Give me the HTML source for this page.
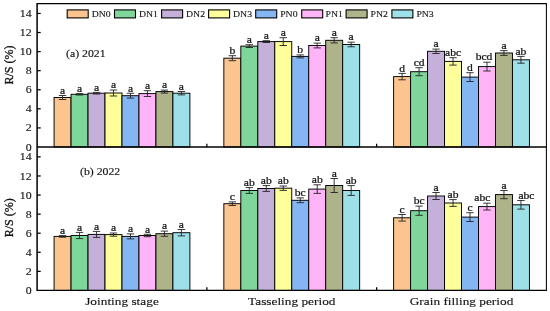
<!DOCTYPE html>
<html><head><meta charset="utf-8"><title>R/S chart</title>
<style>html,body{margin:0;padding:0;background:#fff;overflow:hidden}svg{display:block}text{font-family:"Liberation Serif",serif;fill:#141414;stroke:#141414;stroke-width:0.13px}</style>
</head><body>
<svg width="550" height="311" viewBox="0 0 550 311">
<rect width="550" height="311" fill="#fff"/>
<rect x="54.08" y="97.50" width="16.98" height="49.50" fill="#FCC590" stroke="#000" stroke-width="0.95"/>
<rect x="71.05" y="94.30" width="16.98" height="52.70" fill="#7ED69B" stroke="#000" stroke-width="0.95"/>
<rect x="88.03" y="93.20" width="16.98" height="53.80" fill="#C5B0DA" stroke="#000" stroke-width="0.95"/>
<rect x="105.01" y="93.00" width="16.98" height="54.00" fill="#FEFE9B" stroke="#000" stroke-width="0.95"/>
<rect x="121.98" y="95.70" width="16.98" height="51.30" fill="#84B6F4" stroke="#000" stroke-width="0.95"/>
<rect x="138.96" y="93.60" width="16.98" height="53.40" fill="#FEB4F6" stroke="#000" stroke-width="0.95"/>
<rect x="155.94" y="91.60" width="16.98" height="55.40" fill="#AEB38A" stroke="#000" stroke-width="0.95"/>
<rect x="172.91" y="93.20" width="16.98" height="53.80" fill="#9DE0E8" stroke="#000" stroke-width="0.95"/>
<path d="M62.56 95.50V99.50M58.86 95.50H66.26M58.86 99.50H66.26" stroke="#222" stroke-width="0.9" fill="none"/>
<text transform="translate(62.56 93.70) scale(1.1 1)" font-size="10.5" text-anchor="middle" style="stroke-width:0.25px">a</text>
<path d="M79.54 93.60V95.00M75.84 93.60H83.24M75.84 95.00H83.24" stroke="#222" stroke-width="0.9" fill="none"/>
<text transform="translate(79.54 91.80) scale(1.1 1)" font-size="10.5" text-anchor="middle" style="stroke-width:0.25px">a</text>
<path d="M96.52 92.40V94.00M92.82 92.40H100.22M92.82 94.00H100.22" stroke="#222" stroke-width="0.9" fill="none"/>
<text transform="translate(96.52 90.60) scale(1.1 1)" font-size="10.5" text-anchor="middle" style="stroke-width:0.25px">a</text>
<path d="M113.49 90.00V96.00M109.79 90.00H117.19M109.79 96.00H117.19" stroke="#222" stroke-width="0.9" fill="none"/>
<text transform="translate(113.49 88.20) scale(1.1 1)" font-size="10.5" text-anchor="middle" style="stroke-width:0.25px">a</text>
<path d="M130.47 93.30V98.10M126.77 93.30H134.17M126.77 98.10H134.17" stroke="#222" stroke-width="0.9" fill="none"/>
<text transform="translate(130.47 91.50) scale(1.1 1)" font-size="10.5" text-anchor="middle" style="stroke-width:0.25px">a</text>
<path d="M147.45 90.70V96.50M143.75 90.70H151.15M143.75 96.50H151.15" stroke="#222" stroke-width="0.9" fill="none"/>
<text transform="translate(147.45 88.90) scale(1.1 1)" font-size="10.5" text-anchor="middle" style="stroke-width:0.25px">a</text>
<path d="M164.43 90.10V93.10M160.73 90.10H168.12M160.73 93.10H168.12" stroke="#222" stroke-width="0.9" fill="none"/>
<text transform="translate(164.43 88.30) scale(1.1 1)" font-size="10.5" text-anchor="middle" style="stroke-width:0.25px">a</text>
<path d="M181.40 91.50V94.90M177.70 91.50H185.10M177.70 94.90H185.10" stroke="#222" stroke-width="0.9" fill="none"/>
<text transform="translate(181.40 89.70) scale(1.1 1)" font-size="10.5" text-anchor="middle" style="stroke-width:0.25px">a</text>
<rect x="223.84" y="58.20" width="16.98" height="88.80" fill="#FCC590" stroke="#000" stroke-width="0.95"/>
<rect x="240.82" y="46.10" width="16.98" height="100.90" fill="#7ED69B" stroke="#000" stroke-width="0.95"/>
<rect x="257.80" y="41.60" width="16.98" height="105.40" fill="#C5B0DA" stroke="#000" stroke-width="0.95"/>
<rect x="274.77" y="41.60" width="16.98" height="105.40" fill="#FEFE9B" stroke="#000" stroke-width="0.95"/>
<rect x="291.75" y="56.40" width="16.98" height="90.60" fill="#84B6F4" stroke="#000" stroke-width="0.95"/>
<rect x="308.73" y="45.50" width="16.98" height="101.50" fill="#FEB4F6" stroke="#000" stroke-width="0.95"/>
<rect x="325.70" y="40.30" width="16.98" height="106.70" fill="#AEB38A" stroke="#000" stroke-width="0.95"/>
<rect x="342.68" y="44.50" width="16.98" height="102.50" fill="#9DE0E8" stroke="#000" stroke-width="0.95"/>
<path d="M232.33 55.70V60.70M228.63 55.70H236.03M228.63 60.70H236.03" stroke="#222" stroke-width="0.9" fill="none"/>
<text transform="translate(232.33 53.90) scale(1.1 1)" font-size="10.5" text-anchor="middle" style="stroke-width:0.25px">b</text>
<path d="M249.31 44.70V47.50M245.61 44.70H253.01M245.61 47.50H253.01" stroke="#222" stroke-width="0.9" fill="none"/>
<text transform="translate(249.31 42.90) scale(1.1 1)" font-size="10.5" text-anchor="middle" style="stroke-width:0.25px">a</text>
<path d="M266.29 40.70V42.50M262.59 40.70H269.99M262.59 42.50H269.99" stroke="#222" stroke-width="0.9" fill="none"/>
<text transform="translate(266.29 38.90) scale(1.1 1)" font-size="10.5" text-anchor="middle" style="stroke-width:0.25px">a</text>
<path d="M283.26 37.70V45.50M279.56 37.70H286.96M279.56 45.50H286.96" stroke="#222" stroke-width="0.9" fill="none"/>
<text transform="translate(283.26 35.90) scale(1.1 1)" font-size="10.5" text-anchor="middle" style="stroke-width:0.25px">a</text>
<path d="M300.24 54.90V57.90M296.54 54.90H303.94M296.54 57.90H303.94" stroke="#222" stroke-width="0.9" fill="none"/>
<text transform="translate(300.24 53.10) scale(1.1 1)" font-size="10.5" text-anchor="middle" style="stroke-width:0.25px">b</text>
<path d="M317.22 43.10V47.90M313.52 43.10H320.92M313.52 47.90H320.92" stroke="#222" stroke-width="0.9" fill="none"/>
<text transform="translate(317.22 41.30) scale(1.1 1)" font-size="10.5" text-anchor="middle" style="stroke-width:0.25px">a</text>
<path d="M334.19 37.70V42.90M330.49 37.70H337.89M330.49 42.90H337.89" stroke="#222" stroke-width="0.9" fill="none"/>
<text transform="translate(334.19 35.90) scale(1.1 1)" font-size="10.5" text-anchor="middle" style="stroke-width:0.25px">a</text>
<path d="M351.17 42.20V46.80M347.47 42.20H354.87M347.47 46.80H354.87" stroke="#222" stroke-width="0.9" fill="none"/>
<text transform="translate(351.17 40.40) scale(1.1 1)" font-size="10.5" text-anchor="middle" style="stroke-width:0.25px">a</text>
<rect x="393.61" y="76.60" width="16.98" height="70.40" fill="#FCC590" stroke="#000" stroke-width="0.95"/>
<rect x="410.59" y="71.70" width="16.98" height="75.30" fill="#7ED69B" stroke="#000" stroke-width="0.95"/>
<rect x="427.56" y="51.30" width="16.98" height="95.70" fill="#C5B0DA" stroke="#000" stroke-width="0.95"/>
<rect x="444.54" y="61.40" width="16.98" height="85.60" fill="#FEFE9B" stroke="#000" stroke-width="0.95"/>
<rect x="461.52" y="77.10" width="16.98" height="69.90" fill="#84B6F4" stroke="#000" stroke-width="0.95"/>
<rect x="478.49" y="66.60" width="16.98" height="80.40" fill="#FEB4F6" stroke="#000" stroke-width="0.95"/>
<rect x="495.47" y="53.00" width="16.98" height="94.00" fill="#AEB38A" stroke="#000" stroke-width="0.95"/>
<rect x="512.45" y="59.80" width="16.98" height="87.20" fill="#9DE0E8" stroke="#000" stroke-width="0.95"/>
<path d="M402.10 73.40V79.80M398.40 73.40H405.80M398.40 79.80H405.80" stroke="#222" stroke-width="0.9" fill="none"/>
<text transform="translate(402.10 71.60) scale(1.1 1)" font-size="10.5" text-anchor="middle" style="stroke-width:0.25px">d</text>
<path d="M419.08 67.70V75.70M415.38 67.70H422.78M415.38 75.70H422.78" stroke="#222" stroke-width="0.9" fill="none"/>
<text transform="translate(419.08 65.90) scale(1.1 1)" font-size="10.5" text-anchor="middle" style="stroke-width:0.25px">cd</text>
<path d="M436.05 49.10V53.50M432.35 49.10H439.75M432.35 53.50H439.75" stroke="#222" stroke-width="0.9" fill="none"/>
<text transform="translate(436.05 47.30) scale(1.1 1)" font-size="10.5" text-anchor="middle" style="stroke-width:0.25px">a</text>
<path d="M453.03 57.70V65.10M449.33 57.70H456.73M449.33 65.10H456.73" stroke="#222" stroke-width="0.9" fill="none"/>
<text transform="translate(453.03 55.90) scale(1.1 1)" font-size="10.5" text-anchor="middle" style="stroke-width:0.25px">abc</text>
<path d="M470.00 72.70V81.50M466.31 72.70H473.70M466.31 81.50H473.70" stroke="#222" stroke-width="0.9" fill="none"/>
<text transform="translate(470.00 70.90) scale(1.1 1)" font-size="10.5" text-anchor="middle" style="stroke-width:0.25px">d</text>
<path d="M486.98 62.20V71.00M483.28 62.20H490.68M483.28 71.00H490.68" stroke="#222" stroke-width="0.9" fill="none"/>
<text transform="translate(483.98 60.40) scale(1.1 1)" font-size="10.5" text-anchor="middle" style="stroke-width:0.25px">bcd</text>
<path d="M503.96 50.60V55.40M500.26 50.60H507.66M500.26 55.40H507.66" stroke="#222" stroke-width="0.9" fill="none"/>
<text transform="translate(503.96 48.80) scale(1.1 1)" font-size="10.5" text-anchor="middle" style="stroke-width:0.25px">a</text>
<path d="M520.94 56.40V63.20M517.24 56.40H524.64M517.24 63.20H524.64" stroke="#222" stroke-width="0.9" fill="none"/>
<text transform="translate(520.94 54.60) scale(1.1 1)" font-size="10.5" text-anchor="middle" style="stroke-width:0.25px">ab</text>
<rect x="54.08" y="236.40" width="16.98" height="54.05" fill="#FCC590" stroke="#000" stroke-width="0.95"/>
<rect x="71.05" y="235.50" width="16.98" height="54.95" fill="#7ED69B" stroke="#000" stroke-width="0.95"/>
<rect x="88.03" y="234.40" width="16.98" height="56.05" fill="#C5B0DA" stroke="#000" stroke-width="0.95"/>
<rect x="105.01" y="234.60" width="16.98" height="55.85" fill="#FEFE9B" stroke="#000" stroke-width="0.95"/>
<rect x="121.98" y="236.40" width="16.98" height="54.05" fill="#84B6F4" stroke="#000" stroke-width="0.95"/>
<rect x="138.96" y="235.50" width="16.98" height="54.95" fill="#FEB4F6" stroke="#000" stroke-width="0.95"/>
<rect x="155.94" y="233.70" width="16.98" height="56.75" fill="#AEB38A" stroke="#000" stroke-width="0.95"/>
<rect x="172.91" y="232.70" width="16.98" height="57.75" fill="#9DE0E8" stroke="#000" stroke-width="0.95"/>
<path d="M62.56 235.60V237.20M58.86 235.60H66.26M58.86 237.20H66.26" stroke="#222" stroke-width="0.9" fill="none"/>
<text transform="translate(62.56 233.80) scale(1.1 1)" font-size="10.5" text-anchor="middle" style="stroke-width:0.25px">a</text>
<path d="M79.54 232.40V238.60M75.84 232.40H83.24M75.84 238.60H83.24" stroke="#222" stroke-width="0.9" fill="none"/>
<text transform="translate(79.54 230.60) scale(1.1 1)" font-size="10.5" text-anchor="middle" style="stroke-width:0.25px">a</text>
<path d="M96.52 231.40V237.40M92.82 231.40H100.22M92.82 237.40H100.22" stroke="#222" stroke-width="0.9" fill="none"/>
<text transform="translate(96.52 229.60) scale(1.1 1)" font-size="10.5" text-anchor="middle" style="stroke-width:0.25px">a</text>
<path d="M113.49 233.00V236.20M109.79 233.00H117.19M109.79 236.20H117.19" stroke="#222" stroke-width="0.9" fill="none"/>
<text transform="translate(113.49 231.20) scale(1.1 1)" font-size="10.5" text-anchor="middle" style="stroke-width:0.25px">a</text>
<path d="M130.47 233.90V238.90M126.77 233.90H134.17M126.77 238.90H134.17" stroke="#222" stroke-width="0.9" fill="none"/>
<text transform="translate(130.47 232.10) scale(1.1 1)" font-size="10.5" text-anchor="middle" style="stroke-width:0.25px">a</text>
<path d="M147.45 234.30V236.70M143.75 234.30H151.15M143.75 236.70H151.15" stroke="#222" stroke-width="0.9" fill="none"/>
<text transform="translate(147.45 232.50) scale(1.1 1)" font-size="10.5" text-anchor="middle" style="stroke-width:0.25px">a</text>
<path d="M164.43 231.10V236.30M160.73 231.10H168.12M160.73 236.30H168.12" stroke="#222" stroke-width="0.9" fill="none"/>
<text transform="translate(164.43 229.30) scale(1.1 1)" font-size="10.5" text-anchor="middle" style="stroke-width:0.25px">a</text>
<path d="M181.40 229.50V235.90M177.70 229.50H185.10M177.70 235.90H185.10" stroke="#222" stroke-width="0.9" fill="none"/>
<text transform="translate(181.40 227.70) scale(1.1 1)" font-size="10.5" text-anchor="middle" style="stroke-width:0.25px">a</text>
<rect x="223.84" y="203.70" width="16.98" height="86.75" fill="#FCC590" stroke="#000" stroke-width="0.95"/>
<rect x="240.82" y="190.50" width="16.98" height="99.95" fill="#7ED69B" stroke="#000" stroke-width="0.95"/>
<rect x="257.80" y="188.50" width="16.98" height="101.95" fill="#C5B0DA" stroke="#000" stroke-width="0.95"/>
<rect x="274.77" y="188.20" width="16.98" height="102.25" fill="#FEFE9B" stroke="#000" stroke-width="0.95"/>
<rect x="291.75" y="200.30" width="16.98" height="90.15" fill="#84B6F4" stroke="#000" stroke-width="0.95"/>
<rect x="308.73" y="189.10" width="16.98" height="101.35" fill="#FEB4F6" stroke="#000" stroke-width="0.95"/>
<rect x="325.70" y="185.50" width="16.98" height="104.95" fill="#AEB38A" stroke="#000" stroke-width="0.95"/>
<rect x="342.68" y="190.50" width="16.98" height="99.95" fill="#9DE0E8" stroke="#000" stroke-width="0.95"/>
<path d="M232.33 201.90V205.50M228.63 201.90H236.03M228.63 205.50H236.03" stroke="#222" stroke-width="0.9" fill="none"/>
<text transform="translate(232.33 200.10) scale(1.1 1)" font-size="10.5" text-anchor="middle" style="stroke-width:0.25px">c</text>
<path d="M249.31 187.60V193.40M245.61 187.60H253.01M245.61 193.40H253.01" stroke="#222" stroke-width="0.9" fill="none"/>
<text transform="translate(249.31 185.80) scale(1.1 1)" font-size="10.5" text-anchor="middle" style="stroke-width:0.25px">ab</text>
<path d="M266.29 185.60V191.40M262.59 185.60H269.99M262.59 191.40H269.99" stroke="#222" stroke-width="0.9" fill="none"/>
<text transform="translate(266.29 183.80) scale(1.1 1)" font-size="10.5" text-anchor="middle" style="stroke-width:0.25px">ab</text>
<path d="M283.26 186.00V190.40M279.56 186.00H286.96M279.56 190.40H286.96" stroke="#222" stroke-width="0.9" fill="none"/>
<text transform="translate(283.26 184.20) scale(1.1 1)" font-size="10.5" text-anchor="middle" style="stroke-width:0.25px">ab</text>
<path d="M300.24 197.90V202.70M296.54 197.90H303.94M296.54 202.70H303.94" stroke="#222" stroke-width="0.9" fill="none"/>
<text transform="translate(300.24 196.10) scale(1.1 1)" font-size="10.5" text-anchor="middle" style="stroke-width:0.25px">bc</text>
<path d="M317.22 184.80V193.40M313.52 184.80H320.92M313.52 193.40H320.92" stroke="#222" stroke-width="0.9" fill="none"/>
<text transform="translate(317.22 183.00) scale(1.1 1)" font-size="10.5" text-anchor="middle" style="stroke-width:0.25px">ab</text>
<path d="M334.19 178.50V192.50M330.49 178.50H337.89M330.49 192.50H337.89" stroke="#222" stroke-width="0.9" fill="none"/>
<text transform="translate(334.19 176.70) scale(1.1 1)" font-size="10.5" text-anchor="middle" style="stroke-width:0.25px">a</text>
<path d="M351.17 185.60V195.40M347.47 185.60H354.87M347.47 195.40H354.87" stroke="#222" stroke-width="0.9" fill="none"/>
<text transform="translate(351.17 183.80) scale(1.1 1)" font-size="10.5" text-anchor="middle" style="stroke-width:0.25px">ab</text>
<rect x="393.61" y="217.80" width="16.98" height="72.65" fill="#FCC590" stroke="#000" stroke-width="0.95"/>
<rect x="410.59" y="210.70" width="16.98" height="79.75" fill="#7ED69B" stroke="#000" stroke-width="0.95"/>
<rect x="427.56" y="196.00" width="16.98" height="94.45" fill="#C5B0DA" stroke="#000" stroke-width="0.95"/>
<rect x="444.54" y="203.00" width="16.98" height="87.45" fill="#FEFE9B" stroke="#000" stroke-width="0.95"/>
<rect x="461.52" y="217.10" width="16.98" height="73.35" fill="#84B6F4" stroke="#000" stroke-width="0.95"/>
<rect x="478.49" y="206.60" width="16.98" height="83.85" fill="#FEB4F6" stroke="#000" stroke-width="0.95"/>
<rect x="495.47" y="194.60" width="16.98" height="95.85" fill="#AEB38A" stroke="#000" stroke-width="0.95"/>
<rect x="512.45" y="204.80" width="16.98" height="85.65" fill="#9DE0E8" stroke="#000" stroke-width="0.95"/>
<path d="M402.10 214.50V221.10M398.40 214.50H405.80M398.40 221.10H405.80" stroke="#222" stroke-width="0.9" fill="none"/>
<text transform="translate(402.10 212.70) scale(1.1 1)" font-size="10.5" text-anchor="middle" style="stroke-width:0.25px">c</text>
<path d="M419.08 206.10V215.30M415.38 206.10H422.78M415.38 215.30H422.78" stroke="#222" stroke-width="0.9" fill="none"/>
<text transform="translate(419.08 204.30) scale(1.1 1)" font-size="10.5" text-anchor="middle" style="stroke-width:0.25px">bc</text>
<path d="M436.05 192.50V199.50M432.35 192.50H439.75M432.35 199.50H439.75" stroke="#222" stroke-width="0.9" fill="none"/>
<text transform="translate(436.05 190.70) scale(1.1 1)" font-size="10.5" text-anchor="middle" style="stroke-width:0.25px">a</text>
<path d="M453.03 199.60V206.40M449.33 199.60H456.73M449.33 206.40H456.73" stroke="#222" stroke-width="0.9" fill="none"/>
<text transform="translate(453.03 197.80) scale(1.1 1)" font-size="10.5" text-anchor="middle" style="stroke-width:0.25px">ab</text>
<path d="M470.00 212.70V221.50M466.31 212.70H473.70M466.31 221.50H473.70" stroke="#222" stroke-width="0.9" fill="none"/>
<text transform="translate(470.00 210.90) scale(1.1 1)" font-size="10.5" text-anchor="middle" style="stroke-width:0.25px">c</text>
<path d="M486.98 203.20V210.00M483.28 203.20H490.68M483.28 210.00H490.68" stroke="#222" stroke-width="0.9" fill="none"/>
<text transform="translate(482.28 201.40) scale(1.1 1)" font-size="10.5" text-anchor="middle" style="stroke-width:0.25px">abc</text>
<path d="M503.96 190.50V198.70M500.26 190.50H507.66M500.26 198.70H507.66" stroke="#222" stroke-width="0.9" fill="none"/>
<text transform="translate(503.96 188.70) scale(1.1 1)" font-size="10.5" text-anchor="middle" style="stroke-width:0.25px">a</text>
<path d="M520.94 200.50V209.10M517.24 200.50H524.64M517.24 209.10H524.64" stroke="#222" stroke-width="0.9" fill="none"/>
<text transform="translate(526.44 198.70) scale(1.1 1)" font-size="10.5" text-anchor="middle" style="stroke-width:0.25px">abc</text>
<text transform="translate(31.60 150.55) scale(1.1 1)" font-size="10.8" text-anchor="end">0</text>
<path d="M37.1 127.92H40.7" stroke="#000" stroke-width="1.25"/>
<text transform="translate(31.60 131.47) scale(1.1 1)" font-size="10.8" text-anchor="end">2</text>
<path d="M37.1 108.84H40.7" stroke="#000" stroke-width="1.25"/>
<text transform="translate(31.60 112.39) scale(1.1 1)" font-size="10.8" text-anchor="end">4</text>
<path d="M37.1 89.76H40.7" stroke="#000" stroke-width="1.25"/>
<text transform="translate(31.60 93.31) scale(1.1 1)" font-size="10.8" text-anchor="end">6</text>
<path d="M37.1 70.68H40.7" stroke="#000" stroke-width="1.25"/>
<text transform="translate(31.60 74.23) scale(1.1 1)" font-size="10.8" text-anchor="end">8</text>
<path d="M37.1 51.60H40.7" stroke="#000" stroke-width="1.25"/>
<text transform="translate(31.60 55.15) scale(1.1 1)" font-size="10.8" text-anchor="end">10</text>
<path d="M37.1 32.52H40.7" stroke="#000" stroke-width="1.25"/>
<text transform="translate(31.60 36.07) scale(1.1 1)" font-size="10.8" text-anchor="end">12</text>
<path d="M37.1 13.44H40.7" stroke="#000" stroke-width="1.25"/>
<text transform="translate(31.60 16.99) scale(1.1 1)" font-size="10.8" text-anchor="end">14</text>
<path d="M206.87 147.0V143.8" stroke="#000" stroke-width="1.25"/>
<path d="M376.63 147.0V143.8" stroke="#000" stroke-width="1.25"/>
<text transform="translate(31.60 294.00) scale(1.1 1)" font-size="10.8" text-anchor="end">0</text>
<path d="M37.1 271.37H40.7" stroke="#000" stroke-width="1.25"/>
<text transform="translate(31.60 274.92) scale(1.1 1)" font-size="10.8" text-anchor="end">2</text>
<path d="M37.1 252.29H40.7" stroke="#000" stroke-width="1.25"/>
<text transform="translate(31.60 255.84) scale(1.1 1)" font-size="10.8" text-anchor="end">4</text>
<path d="M37.1 233.21H40.7" stroke="#000" stroke-width="1.25"/>
<text transform="translate(31.60 236.76) scale(1.1 1)" font-size="10.8" text-anchor="end">6</text>
<path d="M37.1 214.13H40.7" stroke="#000" stroke-width="1.25"/>
<text transform="translate(31.60 217.68) scale(1.1 1)" font-size="10.8" text-anchor="end">8</text>
<path d="M37.1 195.05H40.7" stroke="#000" stroke-width="1.25"/>
<text transform="translate(31.60 198.60) scale(1.1 1)" font-size="10.8" text-anchor="end">10</text>
<path d="M37.1 175.97H40.7" stroke="#000" stroke-width="1.25"/>
<text transform="translate(31.60 179.52) scale(1.1 1)" font-size="10.8" text-anchor="end">12</text>
<path d="M37.1 156.89H40.7" stroke="#000" stroke-width="1.25"/>
<text transform="translate(31.60 160.44) scale(1.1 1)" font-size="10.8" text-anchor="end">14</text>
<path d="M206.87 290.45V287.25" stroke="#000" stroke-width="1.25"/>
<path d="M376.63 290.45V287.25" stroke="#000" stroke-width="1.25"/>
<path d="M37.1 2.95V291.05" stroke="#000" stroke-width="1.5" fill="none"/>
<path d="M37.1 3.65H546.9" stroke="#000" stroke-width="1.4" fill="none"/>
<path d="M37.1 147.0H546.4" stroke="#000" stroke-width="1.3" fill="none"/>
<path d="M37.1 290.45H546.9" stroke="#000" stroke-width="1.2" fill="none"/>
<path d="M546.4 3.65V290.45" stroke="#000" stroke-width="1.05" fill="none"/>
<rect x="67.20" y="9.9" width="21.0" height="8.0" fill="#FCC590" stroke="#000" stroke-width="1.1"/>
<text transform="translate(91.70 17.30) scale(1.12 1)" font-size="8.7" text-anchor="start">DN0</text>
<rect x="114.50" y="9.9" width="21.0" height="8.0" fill="#7ED69B" stroke="#000" stroke-width="1.1"/>
<text transform="translate(139.00 17.30) scale(1.12 1)" font-size="8.7" text-anchor="start">DN1</text>
<rect x="161.60" y="9.9" width="21.0" height="8.0" fill="#C5B0DA" stroke="#000" stroke-width="1.1"/>
<text transform="translate(186.10 17.30) scale(1.12 1)" font-size="8.7" text-anchor="start">DN2</text>
<rect x="208.60" y="9.9" width="21.0" height="8.0" fill="#FEFE9B" stroke="#000" stroke-width="1.1"/>
<text transform="translate(233.10 17.30) scale(1.12 1)" font-size="8.7" text-anchor="start">DN3</text>
<rect x="255.70" y="9.9" width="21.0" height="8.0" fill="#84B6F4" stroke="#000" stroke-width="1.1"/>
<text transform="translate(280.20 17.30) scale(1.12 1)" font-size="8.7" text-anchor="start">PN0</text>
<rect x="301.70" y="9.9" width="21.0" height="8.0" fill="#FEB4F6" stroke="#000" stroke-width="1.1"/>
<text transform="translate(325.60 17.30) scale(1.12 1)" font-size="8.7" text-anchor="start">PN1</text>
<rect x="346.10" y="9.9" width="21.0" height="8.0" fill="#AEB38A" stroke="#000" stroke-width="1.1"/>
<text transform="translate(370.60 17.30) scale(1.12 1)" font-size="8.7" text-anchor="start">PN2</text>
<rect x="391.90" y="9.9" width="21.0" height="8.0" fill="#9DE0E8" stroke="#000" stroke-width="1.1"/>
<text transform="translate(416.40 17.30) scale(1.12 1)" font-size="8.7" text-anchor="start">PN3</text>
<text transform="translate(66.00 57.00) scale(1.18 1)" font-size="10" text-anchor="start">(a) 2021</text>
<text transform="translate(80.00 175.00) scale(1.18 1)" font-size="10" text-anchor="start">(b) 2022</text>
<text transform="translate(121.98 304.60) scale(1.18 1)" font-size="11.3" text-anchor="middle">Jointing stage</text>
<text transform="translate(291.75 304.60) scale(1.18 1)" font-size="11.3" text-anchor="middle">Tasseling period</text>
<text transform="translate(461.52 304.60) scale(1.18 1)" font-size="11.3" text-anchor="middle">Grain filling period</text>
<text transform="translate(12.9 65.1) scale(1.06 1) rotate(-90)" font-size="12" text-anchor="middle" style="stroke-width:0.3px">R/S (%)</text>
<text transform="translate(12.9 217.8) scale(1.06 1) rotate(-90)" font-size="12" text-anchor="middle" style="stroke-width:0.3px">R/S (%)</text>
</svg>
</body></html>
